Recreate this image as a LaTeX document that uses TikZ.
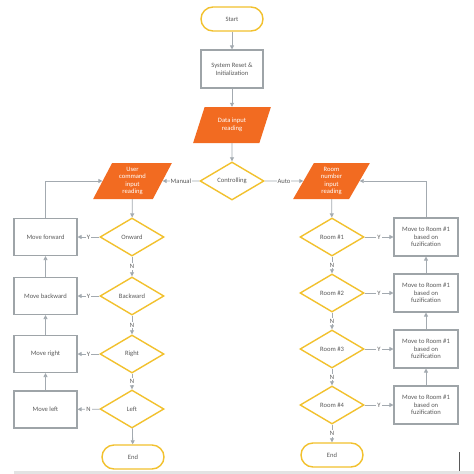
\documentclass[tikz,border=0pt]{standalone}
\usepackage{fontspec}
\setmainfont{Carlito}
\usetikzlibrary{shapes.geometric,arrows.meta}
\definecolor{orng}{HTML}{F26B21}
\definecolor{gold}{HTML}{F2C12E}
\definecolor{boxgray}{HTML}{9EA4A8}
\definecolor{txtgray}{HTML}{5A5A5A}
\definecolor{arrgray}{HTML}{A3AAB0}
\newcommand\smallfs{\fontsize{6.6}{7.6}\selectfont}
\tikzset{
  term/.style={draw=gold, line width=1.4pt, fill=white, rounded corners=12pt,
    minimum width=62pt, minimum height=24pt, text=txtgray, font=\smallfs},
  proc/.style={draw=boxgray, line width=1.1pt, fill=white, minimum width=63pt,
    minimum height=37pt, text=txtgray, align=center, inner sep=1pt, font=\smallfs},
  io/.style={trapezium, trapezium left angle=66, trapezium right angle=114,
    trapezium stretches=true, fill=orng, minimum width=78pt, minimum height=36pt,
    text=white, align=center, inner sep=0pt, font=\smallfs},
  dec/.style={diamond, draw=gold, line width=1.4pt, fill=white, minimum width=64pt,
    minimum height=38pt, inner sep=0pt, aspect=1.7, text=txtgray, font=\smallfs},
  conn/.style={draw=arrgray, line width=0.8pt, -{Triangle[length=4pt,width=4pt]}},
  lab/.style={fill=white, inner sep=1pt, text=txtgray, font=\smallfs}
}
\begin{document}
\begin{tikzpicture}[x=1pt,y=-1pt]
\useasboundingbox (0,0) rectangle (474,474);
\fill[white] (0,0) rectangle (474,474);
\fill[gray!22] (14,471) rectangle (474,474);
\draw[gray!70!black, line width=0.6pt] (459,452) -- (459,471);

% centre column
\node[term] (start) at (232,19) {Start};
\node[proc, minimum width=62pt, minimum height=38pt] (sys) at (232,69) {System Reset \&\\Initialization};
\node[io] (data) at (232,125) {Data input\\reading};
\node[dec] (ctrl) at (232,181) {Controlling};
\node[io, minimum width=79pt] (uc) at (132.5,181) {User\\command\\input\\reading};
\node[io, minimum width=77pt] (rn) at (331.5,181) {Room\\number\\input\\reading};

% left column
\node[dec] (onw) at (132,237) {Onward};
\node[dec] (bwd) at (132,296) {Backward};
\node[dec] (rgt) at (132,354) {Right};
\node[dec] (lft) at (132,409) {Left};
\node[term] (endl) at (133,457) {End};
\node[proc] (mf) at (45.5,237) {Move forward};
\node[proc] (mb) at (45.5,296) {Move backward};
\node[proc] (mr) at (45.5,354) {Move right};
\node[proc] (ml) at (45.5,409.5) {Move left};

% right column
\node[dec] (r1) at (332,237) {Room \#1};
\node[dec] (r2) at (332,293) {Room \#2};
\node[dec] (r3) at (332,349) {Room \#3};
\node[dec] (r4) at (332,405) {Room \#4};
\node[term] (endr) at (332,455) {End};
\node[proc, minimum width=64pt, minimum height=38pt] (m1) at (426,237) {Move to Room \#1\\based on\\fuzification};
\node[proc, minimum width=64pt, minimum height=38pt] (m2) at (426,293) {Move to Room \#1\\based on\\fuzification};
\node[proc, minimum width=64pt, minimum height=38pt] (m3) at (426,349) {Move to Room \#1\\based on\\fuzification};
\node[proc, minimum width=64pt, minimum height=38pt] (m4) at (426,405) {Move to Room \#1\\based on\\fuzification};

% connectors centre
\draw[conn] (start) -- (sys);
\draw[conn] (sys) -- (data);
\draw[conn] (data) -- (ctrl);
\draw[conn] (ctrl.west) -- node[lab] {Manual} (uc);
\draw[conn] (ctrl.east) -- node[lab] {Auto} (rn);
\draw[conn] (uc) -- (onw);
\draw[conn] (rn) -- (r1);

% left connectors
\draw[conn] (onw) -- node[lab] {N} (bwd);
\draw[conn] (bwd) -- node[lab] {N} (rgt);
\draw[conn] (rgt) -- node[lab] {N} (lft);
\draw[conn] (lft) -- (endl);
\draw[conn] (onw) -- node[lab] {Y} (mf);
\draw[conn] (bwd) -- node[lab] {Y} (mb);
\draw[conn] (rgt) -- node[lab] {Y} (mr);
\draw[conn] (lft) -- node[lab] {N} (ml);
\draw[conn] (ml) -- (mr);
\draw[conn] (mr) -- (mb);
\draw[conn] (mb) -- (mf);
\draw[conn] (mf.north) |- (uc);

% right connectors
\draw[conn] (r1) -- node[lab] {N} (r2);
\draw[conn] (r2) -- node[lab] {N} (r3);
\draw[conn] (r3) -- node[lab] {N} (r4);
\draw[conn] (r4) -- node[lab] {N} (endr);
\draw[conn] (r1) -- node[lab] {Y} (m1);
\draw[conn] (r2) -- node[lab] {Y} (m2);
\draw[conn] (r3) -- node[lab] {Y} (m3);
\draw[conn] (r4) -- node[lab] {Y} (m4);
\draw[conn] (m4) -- (m3);
\draw[conn] (m3) -- (m2);
\draw[conn] (m2) -- (m1);
\draw[conn] (m1.north) |- (rn);
\end{tikzpicture}
\end{document}
